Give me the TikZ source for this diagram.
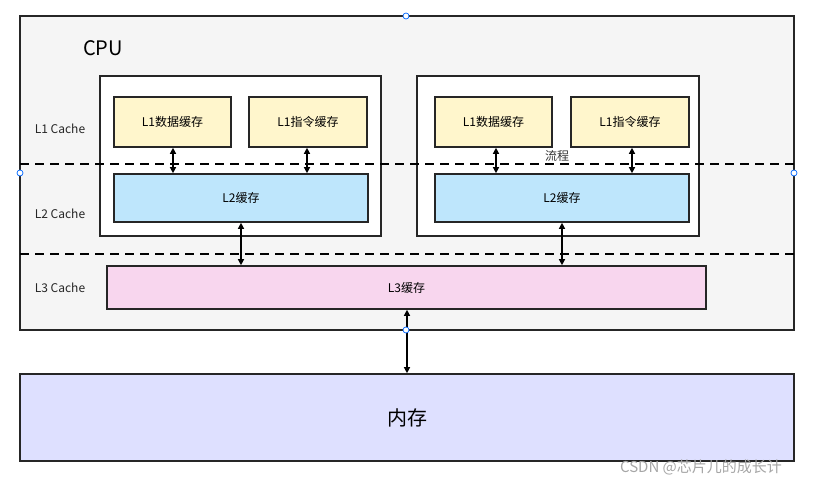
\documentclass[tikz,border=0pt]{standalone}
\usepackage{fontspec}
\setmainfont{Noto Sans CJK SC}
\usetikzlibrary{arrows.meta}
\definecolor{lonefill}{RGB}{255,246,204}
\definecolor{ltwofill}{RGB}{190,230,252}
\definecolor{lthreefill}{RGB}{248,214,238}
\definecolor{memfill}{RGB}{222,224,255}
\begin{document}
\begin{tikzpicture}[x=1pt,y=-1pt,
  box/.style={draw=black!85,line width=1.6pt,inner sep=0pt},
  l1/.style={box,fill=lonefill,font=\fontsize{12}{14}\selectfont},
  l2/.style={box,fill=ltwofill,font=\fontsize{12}{14}\selectfont},
  lvl/.style={font=\fontsize{12}{14}\selectfont,text=black!85},
  link/.style={{Triangle[width=6pt,length=6pt]}-{Triangle[width=6pt,length=6pt]},line width=1.3pt},
  handle/.style={circle,draw=blue!60!cyan,fill=white,inner sep=0pt,minimum size=6pt,line width=0.7pt}]

  \useasboundingbox (0,0) rectangle (823,486);

  % cpu frame and cores
  \draw[box,fill=black!4] (20,16) rectangle (794,330);
  \draw[box,fill=white] (100,76) rectangle (381,236);
  \draw[box,fill=white] (417,76) rectangle (699,236);
  \draw[line width=1.3pt,dash pattern=on 9pt off 6pt] (20,164) -- (794,164);
  \draw[line width=1.3pt,dash pattern=on 9pt off 6pt] (20,254) -- (794,254);
  \node[font=\fontsize{20}{24}\selectfont] (cpu) at (103,48) {CPU};
  \node[lvl] (lv1) at (60,129) {L1 Cache};
  \node[lvl] (lv2) at (60,214) {L2 Cache};
  \node[lvl] (lv3) at (60,288) {L3 Cache};

  \node[l1,minimum width=117pt,minimum height=50pt] (d1) at (172.5,122) {L1数据缓存};
  \node[l1,minimum width=118pt,minimum height=50pt] (i1) at (308,122) {L1指令缓存};
  \node[l1,minimum width=117pt,minimum height=50pt] (d2) at (493.5,122) {L1数据缓存};
  \node[l1,minimum width=118pt,minimum height=50pt] (i2) at (630,122) {L1指令缓存};
  \node[l2,minimum width=254pt,minimum height=48pt] (c1) at (241,198) {L2缓存};
  \node[l2,minimum width=254pt,minimum height=48pt] (c2) at (562,198) {L2缓存};
  \node[font=\fontsize{12}{14}\selectfont,text=black!80] (flow) at (557,156) {流程};

  \node[box,fill=lthreefill,minimum width=599pt,minimum height=43pt,font=\fontsize{12}{14}\selectfont] (l3) at (406.5,287.5) {L3缓存};
  \node[box,fill=memfill,minimum width=774pt,minimum height=87pt,font=\fontsize{20}{24}\selectfont] (mem) at (407,417.5) {内存};

  \draw[link] (d1.south -| 173,0) -- (c1.north -| 173,0);
  \draw[link] (i1.south -| 307,0) -- (c1.north -| 307,0);
  \draw[link] (d2.south -| 496,0) -- (c2.north -| 496,0);
  \draw[link] (i2.south -| 632,0) -- (c2.north -| 632,0);
  \draw[link] (c1.south) -- (l3.north -| c1.south);
  \draw[link] (c2.south) -- (l3.north -| c2.south);
  \draw[link] (l3.south -| mem.north) -- (mem.north);

  % selection handles
  \node[handle] (h1) at (406,16) {};
  \node[handle] (h2) at (20,173) {};
  \node[handle] (h3) at (794,173) {};
  \node[handle] (h4) at (406,330) {};

  \node[text=black!35,font=\fontsize{15}{18}\selectfont] (mark) at (701,467) {CSDN @芯片儿的成长计};
\end{tikzpicture}
\end{document}
